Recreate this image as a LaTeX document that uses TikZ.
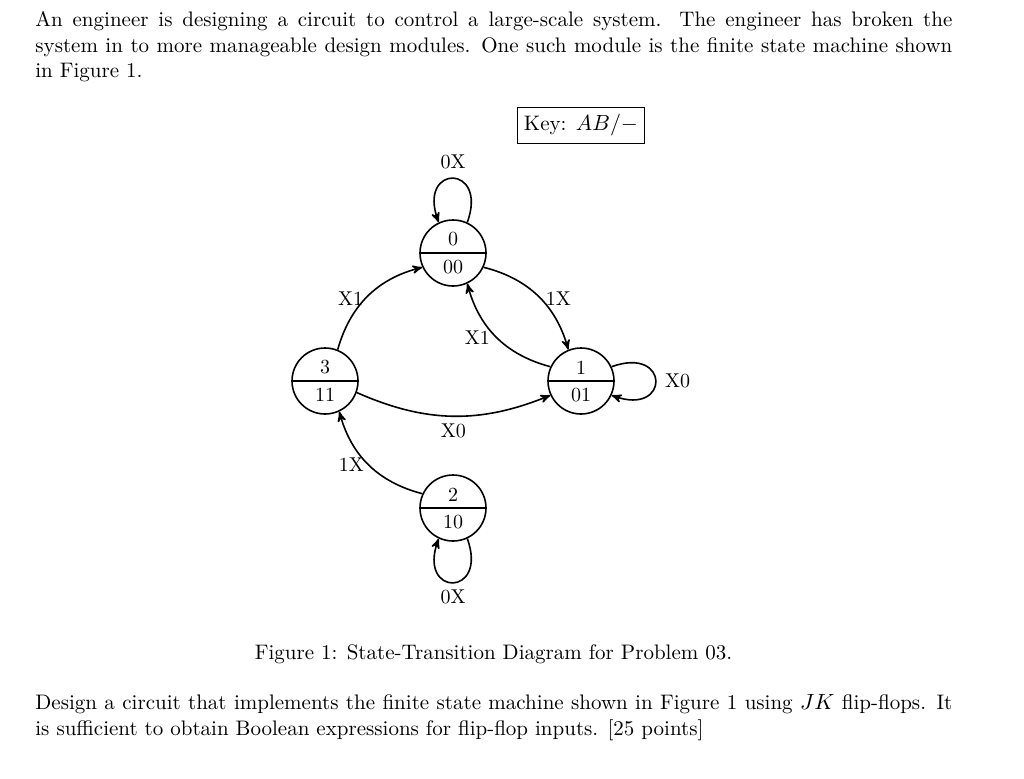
\documentclass[tikz,border=0pt]{standalone}
\usepackage{amsfonts}
\usepackage{amsmath}
\usepackage{amssymb}
\usetikzlibrary{arrows, shapes, positioning}
\tikzset{
  statenode/.style={circle split, draw, thick, minimum size=33pt, inner sep=3pt},
  para/.style={anchor=north west, inner sep=0pt, text width=458.5pt, align=justify, font=\fontsize{10.5}{12.75}\selectfont},
  edge/.style={draw, thick, ->, >=stealth'}
}
\begin{document}
\begin{tikzpicture}[x=0.5pt, y=-0.5pt]
\useasboundingbox (0,0) rectangle (1024,778);
\node[para] (intro) at (35,11.5) {An engineer is designing a circuit to control a large-scale system. The engineer has broken the\linebreak system in to more manageable design modules. One such module is the finite state machine shown\linebreak in Figure 1.};
\node[draw, font=\fontsize{10.5}{12.75}\selectfont] (key) at (581,125.5) {Key: $AB/-$};
\node[statenode] (s0) at (453,253) {0 \nodepart{lower} 00};
\node[statenode, below right=64pt and 64pt of s0.center, anchor=center] (s1) {1 \nodepart{lower} 01};
\node[statenode, below left=64pt and 64pt of s0.center, anchor=center] (s3) {3 \nodepart{lower} 11};
\node[statenode, below=127.5pt of s0.center, anchor=center] (s2) {2 \nodepart{lower} 10};
\foreach \n in {s0,s1,s2,s3}
  \draw [line width=1.3pt] (\n.west) -- (\n.east);
\draw [edge] (s0.65) to[out=70, in=110, looseness=5.6] node[above, yshift=1pt] (l00) {0X} (s0.115);
\draw [edge] (s0.-25) to[bend left=30] node[right, inner sep=1pt, xshift=2.5pt, yshift=-1.5pt] (l01) {1X} (s1.112);
\draw [edge] (s1.155) to[bend left=30] node[left, inner sep=3pt] (l10) {X1} (s0.-65);
\draw [edge] (s1.25) to[out=20, in=-20, looseness=5.6] node[right, xshift=1pt] (l11) {X0} (s1.-25);
\draw [edge] (s3.-20) to[bend right=23] node[below] (l31) {X0} (s1.205);
\draw [edge] (s3.68) to[bend left=30] node[left, inner sep=1pt, xshift=-1pt, yshift=-1.5pt] (l30) {X1} (s0.205);
\draw [edge] (s2.155) to[bend left=30] node[left, inner sep=1pt, xshift=-1pt] (l23) {1X} (s3.-65);
\draw [edge] (s2.-65) to[out=-70, in=-110, looseness=5.6] node[below] (l22) {0X} (s2.-115);
\node[font=\fontsize{10.5}{12.75}\selectfont] (caption) at (493.5,654) {Figure 1: State-Transition Diagram for Problem 03.};
\node[para] (task) at (35,694.5) {Design a circuit that implements the finite state machine shown in Figure 1 using $JK$ flip-flops. It\linebreak is sufficient to obtain Boolean expressions for flip-flop inputs. [25 points]};
\end{tikzpicture}
\end{document}
